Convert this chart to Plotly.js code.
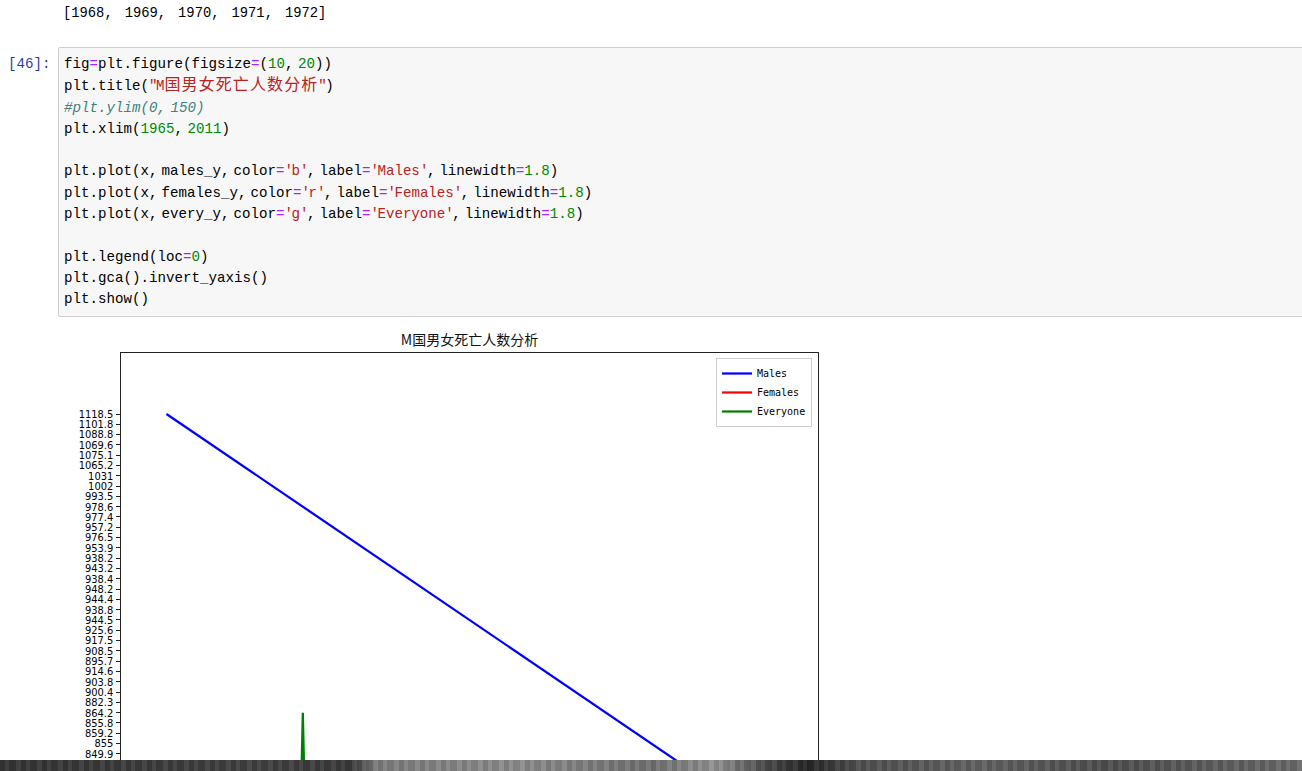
<!DOCTYPE html>
<html><head><meta charset="utf-8">
<script src="https://cdn.plot.ly/plotly-3.0.1.min.js"></script>
<style>
html,body{margin:0;padding:0;width:1302px;height:771px;overflow:hidden;background:#fff;}
.mono{font-family:"Liberation Mono","DejaVu Sans Mono",monospace;}
#out{position:absolute;left:63px;top:3px;font-size:13.8px;line-height:21px;color:#000;white-space:pre;}
#prompt{position:absolute;left:8px;top:54px;font-size:14.2px;line-height:21.3px;color:#303f9f;white-space:pre;}
#cell{position:absolute;left:58px;top:47px;width:1270px;height:268px;background:#f7f7f7;border:1px solid #cfcfcf;border-radius:2px;}
#code{position:absolute;left:64px;top:54px;font-size:14.17px;line-height:21.3px;color:#000;white-space:pre;margin:0;}
.o{color:#aa22ff}.n{color:#008800}.s{color:#ba2121}.c{color:#408080;font-style:italic}
.cm{display:inline-block;width:13px}
.cp{display:inline-block;width:12.5px}
.oc{display:inline-block;width:12px}
.q{display:inline-block;width:7px}
.cjk{font-family:"Noto Sans CJK SC";font-size:16px;letter-spacing:1.1px;line-height:1}
#chart{position:absolute;left:0;top:320px;}
#band{position:absolute;left:0;top:760px;width:1302px;height:11px;z-index:10;
background:
 repeating-linear-gradient(90deg, rgba(0,0,0,0.10) 0 5px, rgba(255,255,255,0.05) 5px 9px, rgba(0,0,0,0.08) 9px 16px, rgba(255,255,255,0.06) 16px 21px),
 linear-gradient(90deg,#353535 0%,#414141 20%,#3a3a3a 27%,#7e7e7e 29%,#8c8c8c 40%,#717171 50%,#929292 55%,#474747 59%,#262626 62%,#505050 66%,#626262 75%,#4e4e4e 85%,#6a6a6a 100%);}
</style></head>
<body>
<div id="out" class="mono">[1968<span class="oc">,</span> 1969<span class="oc">,</span> 1970<span class="oc">,</span> 1971<span class="oc">,</span> 1972]</div>
<div id="cell"></div>
<div id="prompt" class="mono">[46]:</div>
<pre id="code" class="mono">fig<span class="o">=</span>plt.figure(figsize<span class="o">=</span>(<span class="n">10</span><span class="cm">,</span><span class="n">20</span>))
plt.title(<span class="s"><span class="q">"</span>M<span class="cjk">国男女死亡人数分析</span><span class="q">"</span></span>)
<span class="c">#plt.ylim(0<span class="cm">,</span>150)</span>
plt.xlim(<span class="n">1965</span><span class="cm">,</span><span class="n">2011</span>)

plt.plot(x<span class="cp">,</span>males_y<span class="cp">,</span>color<span class="o">=</span><span class="s"><span class="q">'</span>b<span class="q">'</span></span><span class="cp">,</span>label<span class="o">=</span><span class="s"><span class="q">'</span>Males<span class="q">'</span></span><span class="cp">,</span>linewidth<span class="o">=</span><span class="n">1.8</span>)
plt.plot(x<span class="cp">,</span>females_y<span class="cp">,</span>color<span class="o">=</span><span class="s"><span class="q">'</span>r<span class="q">'</span></span><span class="cp">,</span>label<span class="o">=</span><span class="s"><span class="q">'</span>Females<span class="q">'</span></span><span class="cp">,</span>linewidth<span class="o">=</span><span class="n">1.8</span>)
plt.plot(x<span class="cp">,</span>every_y<span class="cp">,</span>color<span class="o">=</span><span class="s"><span class="q">'</span>g<span class="q">'</span></span><span class="cp">,</span>label<span class="o">=</span><span class="s"><span class="q">'</span>Everyone<span class="q">'</span></span><span class="cp">,</span>linewidth<span class="o">=</span><span class="n">1.8</span>)

plt.legend(loc<span class="o">=</span><span class="n">0</span>)
plt.gca().invert_yaxis()
plt.show()</pre>
<div id="chart"></div>
<div id="band"></div>
<script>
// ---- data ----
const years = [1968,1969,1970,1971,1972,1973,1974,1975,1976,1977,1978,1979,1980,1981,1982,1983,1984,1985,1986,1987,1988,1989,1990,1991,1992,1993,1994,1995,1996,1997,1998,1999,2000,2001,2002,2003,2004,2005,2006,2007,2008,2009,2010];
const males_y = ["1118.5","1101.8","1088.8","1069.6","1075.1","1065.2","1031","1002","993.5","978.6","977.4","957.2","976.5","953.9","938.2","943.2","938.4","948.2","944.4","938.8","944.5","925.6","917.5","908.5","895.7","914.6","903.8","900.4","882.3","864.2","855.8","859.2","855","849.9","846.4","838.2","828.6","817.3","808.9","801.2","794.5","787.1","779.6"];
const females_y = ["722.3","716.9","708.4","701.2","699.8","688.5","671.3","652.7","648.1","639.9","634.6","621.5","633.8","619.4","610.2","614.7","606.3","617.9","612.1","604.8","611.3","597.6","590.2","584.5","575.1","589.7","582.4","579.3","566.8","553.6","548.2","551.9","549.7","545.1","542.8","536.4","529.9","521.7","514.6","508.3","502.8","497.4","491.2"];
const every_y = ["795.8","788.3","779.1","771.9","773.4","765.7","748.2","731.6","726.4","864.2","718.5","705.3","717.2","702.6","693.4","696.8","690.1","699.5","694.2","689.7","695.1","680.3","672.9","665.4","654.8","669.2","661.5","657.3","643.1","629.5","622.6","625.4","622.1","617.2","614.1","608.7","601.5","594.3","586.9","580.6","574.2","569.1","562.7"];
const seriesNames = ["Males","Females","Everyone"];
const seriesColors = ["#0000ff","#ff0000","#008000"];
const chartTitle = "M国男女死亡人数分析";
const xLimits = [1965, 2011];

// ---- categories (order of first appearance) ----
const cats = [];
[males_y, females_y, every_y].forEach(a => a.forEach(v => { if (!cats.includes(v)) cats.push(v); }));
const n = cats.length;
const step = 10.3, padPx = 61;
const pad = padPx / step;
const H = (n - 1) * step + 2 * padPx;
const mT = 33, mL = 121, mR = 82, mB = 60, W = 697;
const tickFont = {family: '"DejaVu Sans Condensed", "Noto Sans CJK SC", sans-serif', size: 11, color: "#000"};

const traces = [males_y, females_y, every_y].map((ys, i) => ({
  x: years, y: ys, type: "scatter", mode: "lines", name: seriesNames[i],
  line: {color: seriesColors[i], width: 2.25}
}));

const layout = {
  width: mL + W + mR, height: mT + H + mB,
  margin: {l: mL, r: mR, t: mT, b: mB, pad: 0},
  paper_bgcolor: "rgba(0,0,0,0)", plot_bgcolor: "#ffffff",
  title: {text: chartTitle, font: {family: "Noto Sans CJK SC", size: 14, color: "#111"},
          x: 0.5, xref: "paper", xanchor: "center", y: 1, yref: "paper", yanchor: "bottom", pad: {b: 8}},
  xaxis: {range: xLimits, showline: true, mirror: true, linecolor: "#222", linewidth: 1,
          ticks: "outside", ticklen: 4.5, tickcolor: "#222", showgrid: false, zeroline: false,
          tickfont: tickFont},
  yaxis: {type: "category", categoryorder: "array", categoryarray: cats,
          range: [n - 1 + pad, -pad], tickmode: "array", tickvals: cats, ticktext: cats,
          showline: true, mirror: true, linecolor: "#222", linewidth: 1,
          ticks: "outside", ticklen: 4.5, tickcolor: "#222", showgrid: false, zeroline: false,
          tickfont: tickFont},
  showlegend: true,
  legend: {x: (812 - mL) / W, xanchor: "right", y: 1 - 5 / H, yanchor: "top",
           bgcolor: "#ffffff", bordercolor: "#cccccc", borderwidth: 1,
           font: {family: "DejaVu Sans Mono", size: 10, color: "#000"}, tracegroupgap: 0}
};
Plotly.newPlot("chart", traces, layout, {staticPlot: true, displayModeBar: false});
</script>
</body></html>
